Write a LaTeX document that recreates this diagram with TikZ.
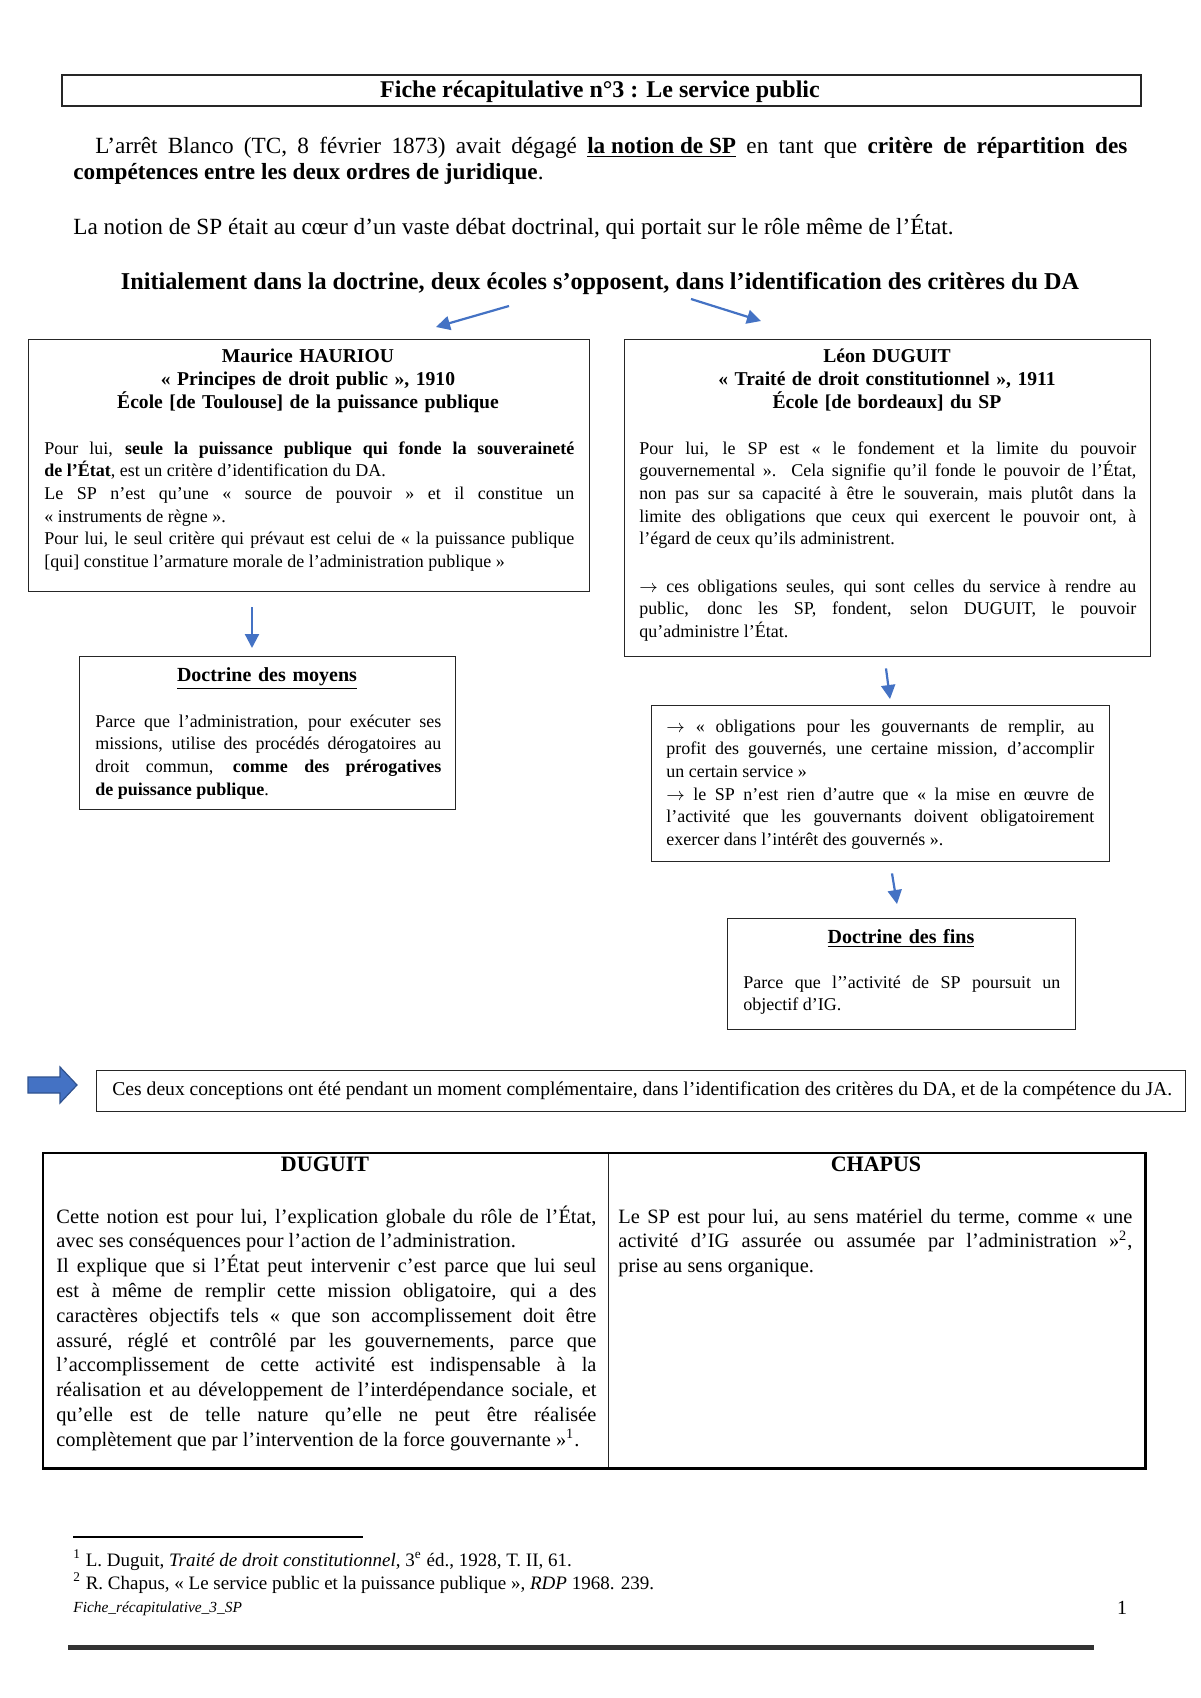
\documentclass[tikz,border=0pt]{standalone}
\usepackage{fontspec}
\setmainfont{Liberation Serif}
\usetikzlibrary{arrows.meta,calc}
\definecolor{arrblue}{HTML}{4472C4}
\definecolor{arrdark}{HTML}{2F528F}
\newcommand\setfs[2]{\fontsize{#1}{#2}\selectfont}
\newcommand\rarr{$\rightarrow$}
\hyphenpenalty=10000
\exhyphenpenalty=10000
\tolerance=9999
\begin{document}
\begin{tikzpicture}[x=0.5pt,y=-0.5pt,
  box/.style={draw=black!85,line width=0.7pt,anchor=north west,inner sep=0pt},
  body/.style={anchor=base west,inner sep=0pt,align=justify,font=\setfs{9}{11.35}},
  hdr/.style={anchor=base,inner sep=0pt,align=center,font=\bfseries\setfs{9.8}{11.7}},
  arr/.style={draw=arrblue,line width=1.1pt,-{Triangle[length=7pt,width=7pt]}},
]
\path[use as bounding box,fill=white] (0,0) rectangle (1200,1698);

% ---- title
\node[box,line width=1pt,minimum width=539.5pt,minimum height=15.5pt] (titlebox) at (61,74) {};
\node[anchor=base,inner sep=0pt,font=\bfseries\setfs{12}{13}] (title) at (600,97) {Fiche récapitulative n°3 : Le service public};

% ---- intro
\node[body,text width=527pt,font=\setfs{11.6}{13}] (p1) at (73,153) {\hspace*{11pt}L’arrêt Blanco (TC, 8 février 1873) avait dégagé \underline{\textbf{la notion de SP}} en tant que \textbf{critère de répartition des\linebreak{} compétences entre les deux ordres de juridique}.};
\node[anchor=base west,inner sep=0pt,font=\setfs{11.6}{13}] (p2) at (73,234) {La notion de SP était au cœur d’un vaste débat doctrinal, qui portait sur le rôle même de l’État.};
\node[anchor=base,inner sep=0pt,font=\bfseries\setfs{12.1}{13}] (head) at (600,289) {Initialement dans la doctrine, deux écoles s’opposent, dans l’identification des critères du DA};

% ---- HAURIOU
\node[box,minimum width=280.5pt,minimum height=126pt] (haur) at (28,339) {};
\node[hdr,text width=270pt] (haurH) at (308,362) {Maurice HAURIOU\\ «~Principes de droit public~», 1910\\ École [de Toulouse] de la puissance publique};
\node[body,text width=265pt] (haurB) at (44,454) {Pour lui, \textbf{seule la puissance publique qui fonde la souveraineté\linebreak{} de l’État}, est un critère d’identification du DA.\\ Le SP n’est qu’une «~source de pouvoir~» et il constitue un\linebreak{} «~instruments de règne~».\\ Pour lui, le seul critère qui prévaut est celui de «~la puissance publique\linebreak{} {[qui]} constitue l’armature morale de l’administration publique~»};

% ---- DUGUIT
\node[box,minimum width=263pt,minimum height=158.5pt] (dug) at (624,339) {};
\node[hdr,text width=255pt] (dugH) at (887,362) {Léon DUGUIT\\ «~Traité de droit constitutionnel~», 1911\\ École [de bordeaux] du SP};
\node[body,text width=248.5pt] (dugB) at (639,454) {Pour lui, le SP est «~le fondement et la limite du pouvoir\linebreak{} gouvernemental~». Cela signifie qu’il fonde le pouvoir de l’État,\linebreak{} non pas sur sa capacité à être le souverain, mais plutôt dans la\linebreak{} limite des obligations que ceux qui exercent le pouvoir ont, à\linebreak{} l’égard de ceux qu’ils administrent.};
\node[body,text width=248.5pt] (dugC) at (639,592) {\rarr{} ces obligations seules, qui sont celles du service à rendre au\linebreak{} public, donc les SP, fondent, selon DUGUIT, le pouvoir\linebreak{} qu’administre l’État.};

% ---- Doctrine des moyens
\node[box,minimum width=188pt,minimum height=76.5pt] (moy) at (79,656) {};
\node[hdr,text width=173pt,font=\bfseries\setfs{10}{12}] (moyH) at (267,681) {\underline{Doctrine des moyens}};
\node[body,text width=173pt] (moyB) at (95,727) {Parce que l’administration, pour exécuter ses\linebreak{} missions, utilise des procédés dérogatoires au\linebreak{} droit commun, \textbf{comme des prérogatives\linebreak{} de puissance publique}.};

% ---- obligations
\node[box,minimum width=229pt,minimum height=78pt] (obl) at (651,705) {};
\node[body,text width=214pt] (oblB) at (666,732) {\rarr{} «~obligations pour les gouvernants de remplir, au\linebreak{} profit des gouvernés, une certaine mission, d’accomplir\linebreak{} un certain service~»\\ \rarr{} le SP n’est rien d’autre que «~la mise en œuvre de\linebreak{} l’activité que les gouvernants doivent obligatoirement\linebreak{} exercer dans l’intérêt des gouvernés~».};

% ---- Doctrine des fins
\node[box,minimum width=174pt,minimum height=55.5pt] (fins) at (727,918) {};
\node[hdr,text width=158.5pt,font=\bfseries\setfs{10}{12}] (finsH) at (901,943) {\underline{Doctrine des fins}};
\node[body,text width=158.5pt] (finsB) at (743,988) {Parce que l’’activité de SP poursuit un\linebreak{} objectif d’IG.};

% ---- arrows
\draw[arr] ($(haur.north west)+(481,-33)$) -- ($(haur.north west)+(408,-12)$);
\draw[arr] ($(dug.north west)+(67,-40)$) -- ($(dug.north west)+(137,-18)$);
\draw[arr] ($(haur.south west)+(224,15)$) -- ($(moy.north west)+(173,-8)$);
\draw[arr] ($(dug.south west)+(262,11)$) -- ($(obl.north west)+(239,-6)$);
\draw[arr] ($(obl.south west)+(241,11)$) -- ($(fins.north west)+(170,-14)$);

% ---- conclusion
\draw[fill=arrblue,draw=arrdark,line width=0.6pt] (28,1077) -- (60,1077) -- (60,1067) -- (77,1085) -- (60,1103) -- (60,1093) -- (28,1093) -- cycle;
\node[box,minimum width=544.5pt,minimum height=20.5pt] (ces) at (96,1070) {};
\node[anchor=base west,inner sep=0pt,font=\setfs{9.8}{11}] (cesT) at (112,1095) {Ces deux conceptions ont été pendant un moment complémentaire, dans l’identification des critères du DA, et de la compétence du JA.};

% ---- table
\node[box,minimum width=282.5pt,minimum height=157pt] (cellL) at (43,1153) {};
\node[box,minimum width=268pt,minimum height=157pt] (cellR) at (608,1153) {};
\draw[line width=1.3pt] (cellL.north west) rectangle (cellR.south east);
\node[hdr,font=\bfseries\setfs{11}{12}] (tabLH) at (325,1171) {DUGUIT};
\node[hdr,font=\bfseries\setfs{11}{12}] (tabRH) at (876,1171) {CHAPUS};
\node[body,text width=270pt,font=\setfs{10.2}{12.4}] (tabL) at (56,1223) {Cette notion est pour lui, l’explication globale du rôle de l’État,\linebreak{} avec ses conséquences pour l’action de l’administration.\\ Il explique que si l’État peut intervenir c’est parce que lui seul\linebreak{} est à même de remplir cette mission obligatoire, qui a des\linebreak{} caractères objectifs tels «~que son accomplissement doit être\linebreak{} assuré, réglé et contrôlé par les gouvernements, parce que\linebreak{} l’accomplissement de cette activité est indispensable à la\linebreak{} réalisation et au développement de l’interdépendance sociale, et\linebreak{} qu’elle est de telle nature qu’elle ne peut être réalisée\linebreak{} complètement que par l’intervention de la force gouvernante~»\textsuperscript{1}.};
\node[body,text width=257pt,font=\setfs{10.2}{12.4}] (tabR) at (618,1223) {Le SP est pour lui, au sens matériel du terme, comme «~une\linebreak{} activité d’IG assurée ou assumée par l’administration~»\textsuperscript{2},\linebreak{} prise au sens organique.};

% ---- footnotes
\draw[line width=1pt] (73,1537) -- (363,1537);
\node[anchor=base west,inner sep=0pt,font=\setfs{9.5}{11}] (fn1) at (73,1566) {\textsuperscript{1} L. Duguit, \textit{Traité de droit constitutionnel}, 3\textsuperscript{e} éd., 1928, T. II, 61.};
\node[anchor=base west,inner sep=0pt,font=\setfs{9.5}{11}] (fn2) at (73,1589) {\textsuperscript{2} R. Chapus, «~Le service public et la puissance publique~», \textit{RDP} 1968. 239.};
\node[anchor=base west,inner sep=0pt,font=\itshape\setfs{7.7}{10}] (fn3) at (73,1612) {Fiche\_récapitulative\_3\_SP};
\node[anchor=base,inner sep=0pt,font=\setfs{10}{12}] (pnum) at (1122,1614) {1};
\draw[line width=2.5pt,draw=black!80] (68,1647) -- (1094,1647);
\end{tikzpicture}
\end{document}
